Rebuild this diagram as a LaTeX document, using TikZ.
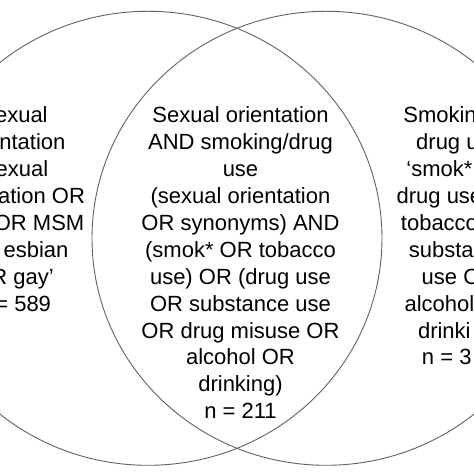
\documentclass[tikz,border=0pt]{standalone}
\usepackage{fontspec}
\setmainfont{Liberation Sans}
\usetikzlibrary{positioning}

\begin{document}
\begin{tikzpicture}[x=1pt,y=1pt]
\tikzset{
  vennset/.style={draw=black!62,line width=0.9pt},
  setlabel/.style={anchor=north,inner sep=0pt,align=center,text=black,
    font=\fontsize{22}{26.9}\selectfont}
}
\useasboundingbox (0,0) rectangle (474,474);
\clip (0,0) rectangle (474,474);
% the two sets
\draw[vennset] (148.00,235.70) ellipse [x radius=234pt,y radius=227pt];
\draw[vennset] (326.00,235.70) ellipse [x radius=234pt,y radius=227pt];
% left set (cut at the page edge)
\node[setlabel] (lbl_orient) at (14.00,367.30)
  {\phantom{S}exual\\ \phantom{orie}ntation\\ \phantom{‘s}exual\\
   \phantom{orient}ation OR\\ \phantom{LGB }OR MSM\\ \phantom{OR l}esbian\\
   \phantom{O}R gay’\\ \phantom{n }= 589};
% overlap
\node[setlabel] (lbl_both) at (240.50,367.30)
  {Sexual orientation\\ AND smoking/drug\\ use\\ (sexual orientation\\
   OR synonyms) AND\\ (smok* OR tobacco\\ use) OR (drug use\\
   OR substance use\\ OR drug misuse OR\\ alcohol OR\\ drinking)\\ n = 211};
% right set (cut at the page edge)
\node[setlabel] (lbl_smoke) at (459.00,367.30)
  {Smokin\phantom{g or}\\ drug u\phantom{se}\\ ‘smok*\phantom{ OR}\\
   drug use\phantom{ OR}\\ tobacco\phantom{ OR}\\ substa\phantom{nce}\\
   use O\phantom{R}\\ alcohol\phantom{ OR}\\ drinki\phantom{ng’}\\ n = 3\phantom{00}};
\end{tikzpicture}
\end{document}
